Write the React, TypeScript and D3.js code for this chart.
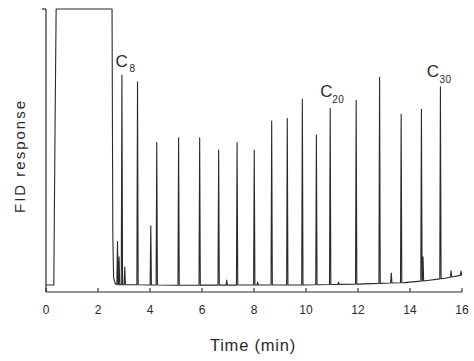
import React from 'react';
import * as d3 from 'd3';

// retention times (min) and apex levels (FID, arbitrary units, 0-100 = axis to top)
const peakTimes = [2.75, 2.81, 2.92, 3.03, 3.52, 4.03, 4.26, 5.10, 5.91, 6.64, 6.95, 7.35, 8.01, 8.14,
  8.68, 9.28, 9.86, 10.40, 10.93, 11.25, 11.93, 12.83, 13.28, 13.66, 14.44, 14.50, 15.17, 15.58, 15.96];
const peakLevels = [17.8, 12.4, 76.7, 8.8, 74.3, 23.4, 52.8, 54.5, 54.5, 50.2, 4.2, 52.8, 50.2, 3.5,
  60.4, 61.4, 68.2, 55.5, 64.9, 3.5, 67.7, 75.9, 6.7, 62.8, 64.6, 12.4, 72.5, 7.5, 7.4];

// baseline drift
const baseTimes = [0, 0.25, 3.0, 5.0, 10.0, 12.0, 13.0, 13.8, 14.6, 15.3, 16.0];
const baseLevels = [2.5, 2.5, 2.6, 2.4, 2.5, 2.8, 3.1, 3.3, 4.0, 4.8, 6.0];

// solvent front (goes off scale)
const solventStart = 0.3;
const solventEnd = 2.54;

const xTicks = [0, 2, 4, 6, 8, 10, 12, 14, 16];

const labels = [
  { n: '8', t: 2.92 },
  { n: '20', t: 10.93 },
  { n: '30', t: 15.17 },
];

const W = 474, H = 361;
const margin = { left: 46, right: 12, top: 9, bottom: 69 };
const font = '"Liberation Sans", Arial, Helvetica, sans-serif';
const ink = '#2a2a2a';

export default function App() {
  const x = d3.scaleLinear().domain([0, 16]).range([margin.left, W - margin.right]);
  const y = d3.scaleLinear().domain([0, 100]).range([H - margin.bottom, margin.top]);
  const base = d3.scaleLinear().domain(baseTimes).range(baseLevels);

  const hw = 0.025;
  type P = { t: number; v: number };
  const pts: P[] = baseTimes.map((t, i) => ({ t, v: baseLevels[i] }));
  // solvent
  pts.push({ t: solventStart, v: 2.5 }, { t: solventStart + 0.05, v: 60 }, { t: solventStart + 0.09, v: 100 },
    { t: solventEnd, v: 100 }, { t: solventEnd + 0.03, v: 20 }, { t: solventEnd + 0.06, v: 5 }, { t: solventEnd + 0.12, v: 3 });
  peakTimes.forEach((t, i) => {
    pts.push({ t: t - hw, v: base(t - hw) }, { t, v: peakLevels[i] }, { t: t + hw, v: base(t + hw) });
  });
  const sorted = pts.map((p, i) => ({ ...p, i })).sort((a, b) => a.t - b.t || a.i - b.i);
  const line = d3.line<P>().x(d => x(d.t)).y(d => y(Math.min(d.v, 100)));

  // [C dx, C dy, subscript dx, subscript dy] relative to peak apex / C glyph
  const labelOff: Record<string, [number, number, number, number]> = {
    '8': [-6.3, -8.3, 14, 5],
    '20': [-10, -11.3, 12, 6.3],
    '30': [-13.7, -9.7, 12.7, 6.3],
  };

  const y0 = y(0);

  return (
    <svg width={W} height={H} style={{ position: 'absolute', left: 0, top: 0, background: '#fff' }}>
      <path d={line(sorted) || ''} fill="none" stroke={ink} strokeWidth={1.1} strokeLinejoin="round" />

      {/* axes */}
      <line x1={margin.left} x2={margin.left} y1={margin.top} y2={y0} stroke={ink} strokeWidth={1.2} />
      <line x1={margin.left - 4} x2={margin.left} y1={margin.top} y2={margin.top} stroke={ink} strokeWidth={1.2} />
      <line x1={margin.left} x2={x(16)} y1={y0} y2={y0} stroke={ink} strokeWidth={1.2} />
      {xTicks.map(t => (
        <g key={t}>
          <line x1={x(t)} x2={x(t)} y1={y0} y2={y0 - 4} stroke={ink} strokeWidth={1.1} />
          <text x={x(t)} y={314} textAnchor="middle" fontFamily={font} fontSize={12} fill={ink}>{t}</text>
        </g>
      ))}
      <text x={253} y={351} textAnchor="middle" fontFamily={font} fontSize={16.5} letterSpacing={0.8} fill={ink}>Time (min)</text>
      <text transform="translate(25,156) rotate(-90)" textAnchor="middle" fontFamily={font} fontSize={15} letterSpacing={2} fill={ink}>FID response</text>

      {/* peak labels */}
      {labels.map(l => {
        const i = peakTimes.indexOf(l.t);
        const cx = x(l.t) + labelOff[l.n][0];
        const cy = y(peakLevels[i]) + labelOff[l.n][1];
        const [, , sdx, sdy] = labelOff[l.n];
        return (
          <g key={l.n} fontFamily={font} fill={ink}>
            <text x={cx} y={cy} fontSize={17}>C</text>
            <text x={cx + sdx} y={cy + sdy} fontSize={10} letterSpacing={0.6}>{l.n}</text>
          </g>
        );
      })}
    </svg>
  );
}
